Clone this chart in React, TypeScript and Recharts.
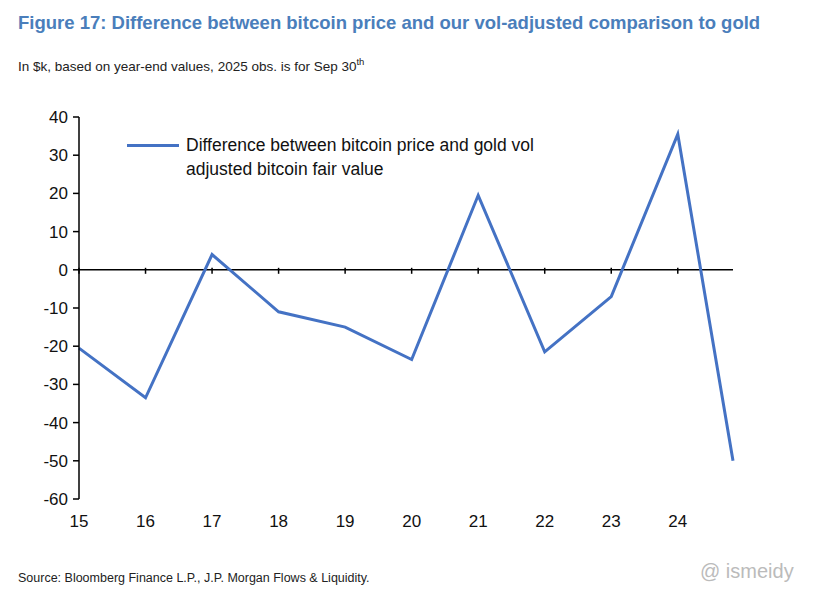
import React from "react";
import { LineChart, Line, XAxis, YAxis, ReferenceLine } from "recharts";

const years = [15, 16, 17, 18, 19, 20, 21, 22, 23, 24, 24.83];
const diff = [-20.5, -33.5, 4, -11, -15, -23.5, 19.5, -21.5, -7, 35.5, -50];
const xTicks = [15, 16, 17, 18, 19, 20, 21, 22, 23, 24];
const yTicks = [40, 30, 20, 10, 0, -10, -20, -30, -40, -50, -60];
const data = years.map((y, i) => ({ year: y, diff: diff[i] }));

const FONT = "'Liberation Sans', Arial, sans-serif";
const PLOT_H = 382;

const XTick = (props: any) => {
  const { x, y, payload } = props;
  const zeroY = y - PLOT_H * 0.6 - 10;
  return (
    <g>
      <line x1={x} x2={x} y1={zeroY} y2={zeroY + 6} stroke="#000" strokeWidth={1.5} />
      <text x={x} y={y + 20} textAnchor="middle" fontSize={17} fontFamily={FONT} fill="#111">
        {payload.value}
      </text>
    </g>
  );
};

export default function App() {
  return (
    <div style={{ position: "relative", width: 826, height: 598, margin: -8, background: "#fff", fontFamily: FONT, overflow: "hidden" }}>
      <div style={{ position: "absolute", left: 18, top: 12, fontSize: 18.5, fontWeight: "bold", color: "#4A7EBB" }}>
        Figure 17: Difference between bitcoin price and our vol-adjusted comparison to gold
      </div>
      <div style={{ position: "absolute", left: 18, top: 56, fontSize: 13.5, color: "#222" }}>
        In $k, based on year-end values, 2025 obs. is for Sep 30<sup style={{ fontSize: 9.5 }}>th</sup>
      </div>
      <LineChart width={826} height={598} data={data} margin={{ top: 117, right: 93, bottom: 69, left: 37 }}>
        <XAxis
          dataKey="year"
          type="number"
          domain={[15, 24.83]}
          ticks={xTicks}
          axisLine={false}
          tickLine={false}
          height={30}
          tick={<XTick />}
          interval={0}
        />
        <YAxis
          type="number"
          domain={[-60, 40]}
          ticks={yTicks}
          width={42}
          axisLine={{ stroke: "#000", strokeWidth: 1.5 }}
          tickLine={{ stroke: "#000", strokeWidth: 1.5 }}
          tickSize={6}
          tick={{ fontSize: 17, fill: "#111", fontFamily: FONT, dx: -3 }}
          interval={0}
        />
        <ReferenceLine y={0} stroke="#000" strokeWidth={1.5} />
        <Line type="linear" dataKey="diff" stroke="#4472C4" strokeWidth={3} dot={false} isAnimationActive={false} />
      </LineChart>
      <div style={{ position: "absolute", left: 127, top: 133, display: "flex", alignItems: "flex-start" }}>
        <div style={{ width: 52, height: 3, background: "#4472C4", marginTop: 11, marginRight: 7 }} />
        <div style={{ fontSize: 17.5, color: "#111", lineHeight: "24px" }}>
          Difference between bitcoin price and gold vol
          <br />
          adjusted bitcoin fair value
        </div>
      </div>
      <div style={{ position: "absolute", left: 18, top: 571, fontSize: 12.5, lineHeight: "15px", color: "#222" }}>
        Source: Bloomberg Finance L.P., J.P. Morgan Flows &amp; Liquidity.
      </div>
      <div style={{ position: "absolute", left: 700, top: 560, fontSize: 20, color: "#bbb" }}>@ ismeidy</div>
    </div>
  );
}
